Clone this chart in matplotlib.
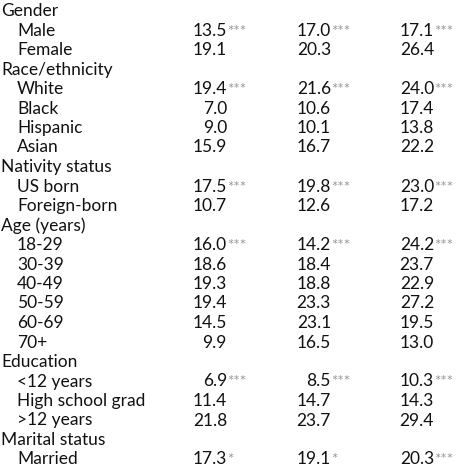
import matplotlib
matplotlib.use("Agg")
import matplotlib.pyplot as plt

rows = ["Gender", "Male", "Female", "Race/ethnicity", "White", "Black", "Hispanic", "Asian",
        "Nativity status", "US born", "Foreign-born", "Age (years)", "18-29", "30-39", "40-49",
        "50-59", "60-69", "70+", "Education", "<12 years", "High school grad", ">12 years",
        "Marital status", "Married"]
headers = {"Gender", "Race/ethnicity", "Nativity status", "Age (years)", "Education", "Marital status"}
col1 = {"Male": "13.5", "Female": "19.1", "White": "19.4", "Black": "7.0", "Hispanic": "9.0", "Asian": "15.9",
        "US born": "17.5", "Foreign-born": "10.7", "18-29": "16.0", "30-39": "18.6", "40-49": "19.3",
        "50-59": "19.4", "60-69": "14.5", "70+": "9.9", "<12 years": "6.9", "High school grad": "11.4",
        ">12 years": "21.8", "Married": "17.3"}
col2 = {"Male": "17.0", "Female": "20.3", "White": "21.6", "Black": "10.6", "Hispanic": "10.1", "Asian": "16.7",
        "US born": "19.8", "Foreign-born": "12.6", "18-29": "14.2", "30-39": "18.4", "40-49": "18.8",
        "50-59": "23.3", "60-69": "23.1", "70+": "16.5", "<12 years": "8.5", "High school grad": "14.7",
        ">12 years": "23.7", "Married": "19.1"}
col3 = {"Male": "17.1", "Female": "26.4", "White": "24.0", "Black": "17.4", "Hispanic": "13.8", "Asian": "22.2",
        "US born": "23.0", "Foreign-born": "17.2", "18-29": "24.2", "30-39": "23.7", "40-49": "22.9",
        "50-59": "27.2", "60-69": "19.5", "70+": "13.0", "<12 years": "10.3", "High school grad": "14.3",
        ">12 years": "29.4", "Married": "20.3"}
stars1 = {"Male": "***", "White": "***", "US born": "***", "18-29": "***", "<12 years": "***", "Married": "*"}
stars2 = {"Male": "***", "White": "***", "US born": "***", "18-29": "***", "<12 years": "***", "Married": "*"}
stars3 = {"Male": "***", "White": "***", "US born": "***", "18-29": "***", "<12 years": "***", "Married": "***"}

fig = plt.figure(figsize=(4.74, 4.74), dpi=100)
ax = fig.add_axes([0, 0, 1, 1])
ax.set_xlim(0, 474)
ax.set_ylim(474, 0)
ax.axis("off")
fam = ["Lato", "DejaVu Sans"]
fs = 12.5
col_right = [227, 331, 434]
for i, r in enumerate(rows):
    y = 11 + i * 19.5
    if r in headers:
        ax.text(1, y, r, fontsize=fs, family=fam, va="center", ha="left", color="#111111")
        continue
    ax.text(17, y, r, fontsize=fs, family=fam, va="center", ha="left", color="#111111")
    for xr, col, st in zip(col_right, (col1, col2, col3), (stars1, stars2, stars3)):
        ax.text(xr, y, col[r], fontsize=fs, family=fam, va="center", ha="right", color="#111111")
        if r in st:
            ax.text(xr + 0.5, y + 1, st[r], fontsize=11, family=fam, va="center", ha="left", color="#999999")
fig.savefig("out.png", dpi=100)
